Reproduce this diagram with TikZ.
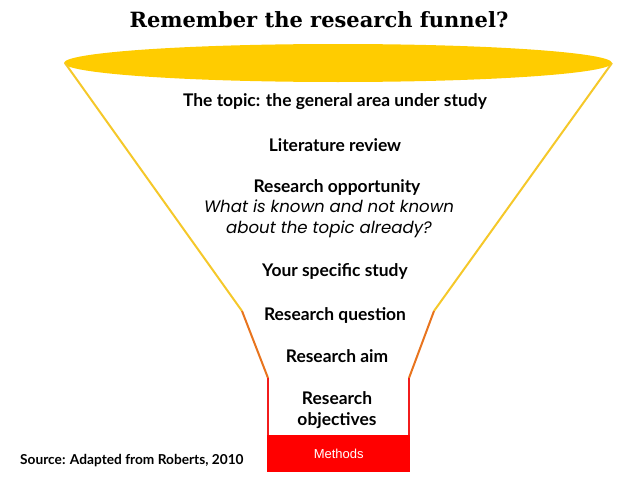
\documentclass[tikz,border=0pt]{standalone}
\usepackage{fontspec}
\setmainfont{Lato}
\newfontfamily\titlefont{DejaVu Serif}
\newfontfamily\notefont{Poppins}
\newfontfamily\methodsfont{Liberation Sans}
\definecolor{funnelyellow}{HTML}{FFCC00}
\definecolor{lineyellow}{HTML}{F5C82A}
\definecolor{lineorange}{HTML}{E8741E}
\definecolor{linered}{HTML}{F21C1C}
\definecolor{boxred}{HTML}{FF0000}
\tikzset{
  stage/.style={font=\fontsize{17.4}{21}\selectfont\bfseries, text=black, align=center, inner sep=0pt},
  note/.style={font=\notefont\fontsize{16.6}{21}\selectfont\itshape, text=black, align=center, inner sep=0pt},
  wall/.style={line width=2pt, line join=round},
}
\begin{document}
\begin{tikzpicture}[x=1pt,y=-1pt]
\useasboundingbox (0,0) rectangle (638,479);
% funnel mouth
\fill[funnelyellow] (338,63) ellipse [x radius=274, y radius=19];
\coordinate (lt) at (65,63);
\coordinate (rt) at (612,63);
\coordinate (lb) at (242,311);
\coordinate (rb) at (434,311);
\coordinate (lo) at (268,378);
\coordinate (ro) at (409,378);
\coordinate (lr) at (268,436);
\coordinate (rr) at (409,436);
\draw[wall, lineyellow] (lt) -- (lb);
\draw[wall, lineyellow] (rt) -- (rb);
\draw[wall, lineorange] (lb) -- (lo);
\draw[wall, lineorange] (rb) -- (ro);
\draw[wall, linered] (lo) -- (lr);
\draw[wall, linered] (ro) -- (rr);
% methods box
\node[fill=boxred, minimum width=143pt, minimum height=37pt, inner sep=0pt, anchor=north west,
  text=white, font=\methodsfont\fontsize{13}{15}\selectfont] (methods) at (267,435) {Methods};
% title
\node[font=\titlefont\bfseries\fontsize{21}{25}\selectfont, inner sep=0pt] (title) at (319,20) {Remember the research funnel?};
% stages
\node[stage] (topic) at (335,102) {The topic: the general area under study};
\node[stage] (lit) at (335,145) {Literature review};
\node[stage] (opp) at (337,187) {Research opportunity};
\node[note] (known) at (329,219) {What is known and not known\\about the topic already?};
\node[stage] (study) at (335,271) {Your specific study};
\node[stage] (question) at (335,315) {Research question};
\node[stage] (aim) at (337,356) {Research aim};
\node[stage, align=center, font=\fontsize{17.4}{21}\selectfont\bfseries] (obj) at (337,410) {Research\\objectives};
% source
\node[font=\fontsize{13.7}{16}\selectfont\bfseries, anchor=west, inner sep=0pt] (src) at (20,461) {Source: Adapted from Roberts, 2010};
\end{tikzpicture}
\end{document}
